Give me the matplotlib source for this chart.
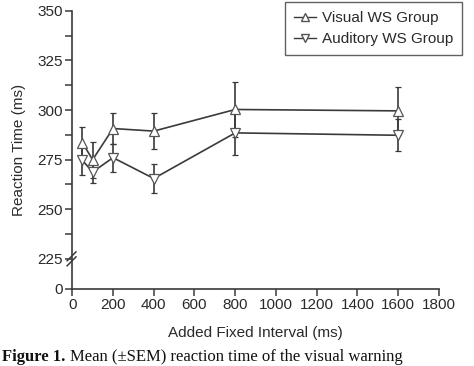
import numpy as np
import matplotlib
matplotlib.use("Agg")
import matplotlib.pyplot as plt
from matplotlib.lines import Line2D

# Data
intervals = [50, 100, 200, 400, 800, 1600]
visual_rt = [283.4, 275.0, 290.7, 289.4, 300.3, 299.6]
visual_sem = [8.0, 9.0, 7.6, 9.0, 14.0, 12.0]
auditory_rt = [274.6, 268.8, 276.0, 265.5, 288.5, 287.3]
auditory_sem = [7.5, 5.5, 7.0, 7.2, 11.2, 8.0]
series_labels = ["Visual WS Group", "Auditory WS Group"]
x_ticks = [0, 200, 400, 600, 800, 1000, 1200, 1400, 1600, 1800]
y_ticks = [0, 225, 250, 275, 300, 325, 350]
y_minor = [237.5, 262.5, 287.5, 312.5, 337.5]

plt.rcParams['font.family'] = ['Liberation Sans', 'DejaVu Sans']
TXT = '#2a2a2a'
LINE = '#3a3a3a'

BREAK = 225.0
K = 15.06 / 225.0

def fwd(y):
    y = np.asarray(y, dtype=float)
    return np.where(y >= BREAK, y, BREAK - (BREAK - y) * K)

def inv(y):
    y = np.asarray(y, dtype=float)
    return np.where(y >= BREAK, y, BREAK - (BREAK - y) / K)

fig = plt.figure(figsize=(4.74, 3.66), dpi=100)
ax = fig.add_axes([0.1525, 0.2112, 0.7735, 0.759])
ax.set_yscale('function', functions=(fwd, inv))

common = dict(color=LINE, lw=1.2, ms=7, mfc='white', mew=0.9, mec='#555555',
              ecolor=LINE, elinewidth=1.2, capsize=2.5, capthick=1.2)
ax.errorbar(intervals, visual_rt, yerr=visual_sem, marker='^', zorder=3, **common)
ax.errorbar(intervals, auditory_rt, yerr=auditory_sem, marker='v', zorder=3, **common)

ax.set_xlim(0, 1800)
ax.set_ylim(0, 350)
ax.set_xticks(x_ticks)
ax.set_xticklabels([str(t) for t in x_ticks])
ax.set_yticks(y_ticks)
ax.set_yticklabels([str(t) for t in y_ticks])
ax.set_yticks(y_minor, minor=True)
ax.tick_params(axis='both', which='major', direction='out', length=5, width=1.1,
               colors=LINE, labelcolor=TXT, labelsize=11, pad=2)
ax.tick_params(axis='y', which='minor', direction='out', length=5, width=1.1, colors=LINE)
ax.tick_params(axis='x', which='minor', length=0)

for s in ['top', 'right']:
    ax.spines[s].set_visible(False)
for s in ['left', 'bottom']:
    ax.spines[s].set_color(LINE)
    ax.spines[s].set_linewidth(1.2)

ax.set_xlabel('Added Fixed Interval (ms)', fontsize=11, color=TXT, labelpad=10)
ax.set_ylabel('Reaction Time (ms)', fontsize=11, color=TXT, labelpad=8)

# axis break marks at 225 (in axes fraction)
lo, hi = float(fwd(0.0)), 350.0
yb = (BREAK - lo) / (hi - lo)
for dy in (-0.009, 0.009):
    ax.plot([-0.014, 0.010], [yb - 0.016 + dy, yb + 0.016 + dy], transform=ax.transAxes,
            color=LINE, lw=1.1, clip_on=False, zorder=5)

handles = [Line2D([0], [0], color=LINE, lw=1.0, marker='^', ms=6, mfc='white', mec='#555555'),
           Line2D([0], [0], color=LINE, lw=1.0, marker='v', ms=6, mfc='white', mec='#555555')]
leg = fig.legend(handles, series_labels, loc='upper right', bbox_to_anchor=(0.975, 0.995),
                 borderaxespad=0.0,
                 fontsize=11, frameon=True, fancybox=False, handlelength=1.4,
                 handletextpad=0.4, borderpad=0.6, labelspacing=0.45, labelcolor=TXT)
leg.get_frame().set_edgecolor(LINE)
leg.get_frame().set_linewidth(1.0)

# caption
fig.text(0.004, 0.004, 'Figure 1.', fontsize=12, family=['Liberation Serif', 'DejaVu Serif'],
         weight='bold', va='bottom', ha='left', color='#111111')
fig.text(0.148, 0.004, 'Mean (\u00b1SEM) reaction time of the visual warning',
         fontsize=12, family=['Liberation Serif', 'DejaVu Serif'],
         va='bottom', ha='left', color='#111111')

fig.savefig('out.png', dpi=100)
